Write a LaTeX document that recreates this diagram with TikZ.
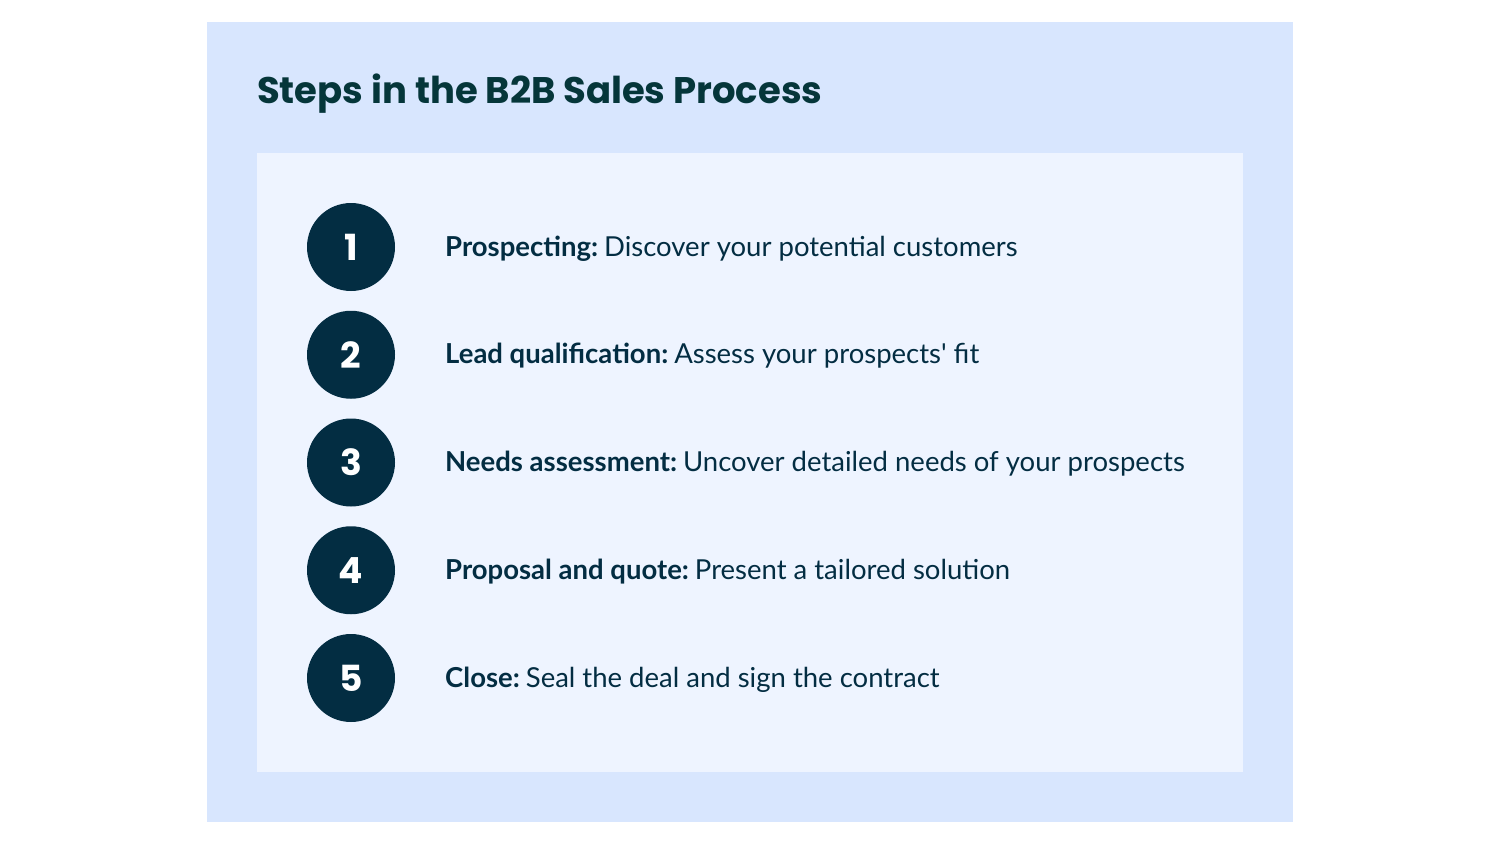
\documentclass[tikz,border=0pt]{standalone}
\usepackage{fontspec}
\setmainfont{Lato}
\newfontfamily\headfont{Poppins}
\definecolor{outerblue}{HTML}{D8E6FE}
\definecolor{innerblue}{HTML}{EEF4FF}
\definecolor{navy}{HTML}{032D42}
\definecolor{headteal}{HTML}{05363A}
\begin{document}
\begin{tikzpicture}[x=1pt,y=-1pt,
        stepnum/.style={circle,fill=navy,minimum size=88pt,inner sep=0pt,
            text=white,font=\headfont\fontsize{36}{36}\selectfont},
        steptext/.style={anchor=base west,inner sep=0pt,text=navy,
            font=\fontsize{27.5}{32}\selectfont},
        ]
        \useasboundingbox (0,0) rectangle (1500,844);
        \fill[outerblue] (207,22) rectangle (1293,822);
        \fill[innerblue] (257,153) rectangle (1243,772);
        \node[anchor=base west,inner sep=0pt,text=headteal,
            font=\headfont\bfseries\fontsize{37}{44}\selectfont] (title) at (257,103)
            {Steps in the B2B Sales Process};
        \foreach \head/\rest [count=\i] in {
            Prospecting/Discover your potential customers,
            Lead qualification/Assess your prospects\textquotesingle{} fit,
            Needs assessment/Uncover detailed needs of your prospects,
            Proposal and quote/Present a tailored solution,
            Close/Seal the deal and sign the contract}
        {
            \pgfmathsetmacro\ypos{247+(\i-1)*107.75}
            \node[stepnum] (num\i) at (351,\ypos) {\textbf{\i}};
            \node[steptext] (text\i) at (445,\ypos+9) {\textbf{\head:}\hspace{0.22em}\rest};
        }
\end{tikzpicture}
\end{document}
